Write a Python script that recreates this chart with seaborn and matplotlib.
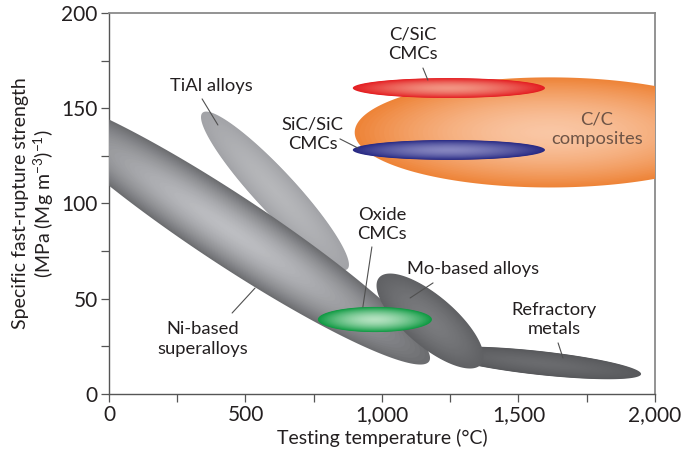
import numpy as np
import seaborn as sns
import matplotlib.pyplot as plt
from matplotlib.colors import to_rgb

# material classes, drawn bottom to top
materials = ["TiAl alloys", "Ni-based superalloys", "Refractory metals", "Mo-based alloys",
             "Oxide CMCs", "C/C composites", "SiC/SiC CMCs", "C/SiC CMCs"]
# centre of each region (temperature in degC, specific strength)
temp_center = [608, 443, 1575, 1176, 974, 1615, 1245, 1245]
strength_center = [106.6, 86.1, 16.3, 38.3, 39.1, 137.3, 128.1, 160.6]
# hottest point of each region and the strength there
temp_max = [879, 1176, 1949, 1372, 1183, 2330, 1597, 1597]
strength_at_max = [67.9, 18.9, 10.5, 19.7, 39.1, 137.3, 128.1, 160.6]
# half spread of strength at the centre temperature
strength_spread = [15.4, 21.8, 6.3, 16.6, 6.6, 28.9, 5.2, 5.2]

edge_colors = ["#a2a3a7", "#6c6d70", "#58595c", "#606164", "#0f9a43", "#ee8438", "#282a84", "#e41e22"]
center_colors = ["#b6b7ba", "#bdbec2", "#6a6b6e", "#7a7b7e", "#b4e2c0", "#f9c6a4", "#8686c0", "#f29482"]

# labels: text, (temp, strength), leader start, leader end
label_text = ["TiAl alloys", "C/SiC\nCMCs", "SiC/SiC\nCMCs", "C/C\ncomposites", "Oxide\nCMCs",
              "Mo-based alloys", "Refractory\nmetals", "Ni-based\nsuperalloys"]
label_temp = [374, 1114, 747, 1788, 1000, 1333, 1630, 344]
label_strength = [161.7, 183.5, 136.5, 139.1, 89.0, 65.6, 39.1, 28.9]
leader_from = [(341, 154.9), (1150, 171.1), (846, 133.9), None, (963, 77.2), (1187, 58.3), (1645, 26.8), (451, 42.5)]
leader_to = [(399, 141.2), (1168, 164.8), (912, 129.1), None, (930, 45.7), (1103, 50.4), (1663, 18.9), (535, 55.6)]

x_ticks = [0, 500, 1000, 1500, 2000]
x_tick_labels = ["0", "500", "1,000", "1,500", "2,000"]
y_ticks = [0, 50, 100, 150, 200]

sns.set_theme(style="white")
plt.rcParams["font.family"] = ["Lato", "DejaVu Sans"]
plt.rcParams["mathtext.fontset"] = "custom"
plt.rcParams["mathtext.rm"] = "Lato"
plt.rcParams["mathtext.it"] = "Lato:italic"

fig = plt.figure(figsize=(6.85, 4.57), dpi=100)
ax = fig.add_axes([0.1591, 0.1379, 0.7971, 0.8337])

t = np.linspace(0, 2 * np.pi, 200)
layers = np.linspace(1.0, 0.03, 40)
for i in range(len(materials)):
    c0 = np.array(to_rgb(edge_colors[i]))
    c1 = np.array(to_rgb(center_colors[i]))
    for s in layers:
        tx = temp_center[i] + s * np.cos(t) * (temp_max[i] - temp_center[i])
        sy = strength_center[i] + s * (np.cos(t) * (strength_at_max[i] - strength_center[i])
                                       + np.sin(t) * strength_spread[i])
        col = c1 + (c0 - c1) * s ** 1.7
        ax.fill(tx, sy, color=col, lw=0, zorder=2 + i)

for i in range(len(label_text)):
    col = "#6e5446" if label_text[i].startswith("C/C") else "#231f20"
    ax.text(label_temp[i], label_strength[i], label_text[i], ha="center", va="center",
            fontsize=13.2, color=col, linespacing=1.25, zorder=20)
    if leader_from[i] is not None:
        ax.plot([leader_from[i][0], leader_to[i][0]], [leader_from[i][1], leader_to[i][1]],
                color="#505050", lw=0.8, zorder=20)

ax.set_xlim(0, 2000)
ax.set_ylim(0, 200)
ax.set_xticks(x_ticks)
ax.set_xticklabels(x_tick_labels)
ax.set_yticks(y_ticks)
ax.set_xticks(np.arange(250, 2000, 500), minor=True)
ax.set_yticks(np.arange(25, 200, 50), minor=True)
ax.tick_params(which="both", direction="out", length=6, width=0.9, color="#555555",
               labelsize=15, labelcolor="#231f20", bottom=True, left=True, pad=2)
ax.set_xlabel("Testing temperature (°C)", fontsize=14, color="#231f20", labelpad=3)
ax.set_ylabel("Specific fast-rupture strength\n(MPa (Mg m$^{-3}$)$^{-1}$)", fontsize=14,
              color="#231f20", labelpad=4, linespacing=1.15)

for side in ["left", "bottom"]:
    ax.spines[side].set_color("#555555")
    ax.spines[side].set_linewidth(1.0)
for side in ["top", "right"]:
    ax.spines[side].set_color("#8a8a8a")
    ax.spines[side].set_linewidth(1.3)

fig.savefig("out.png", dpi=100)
